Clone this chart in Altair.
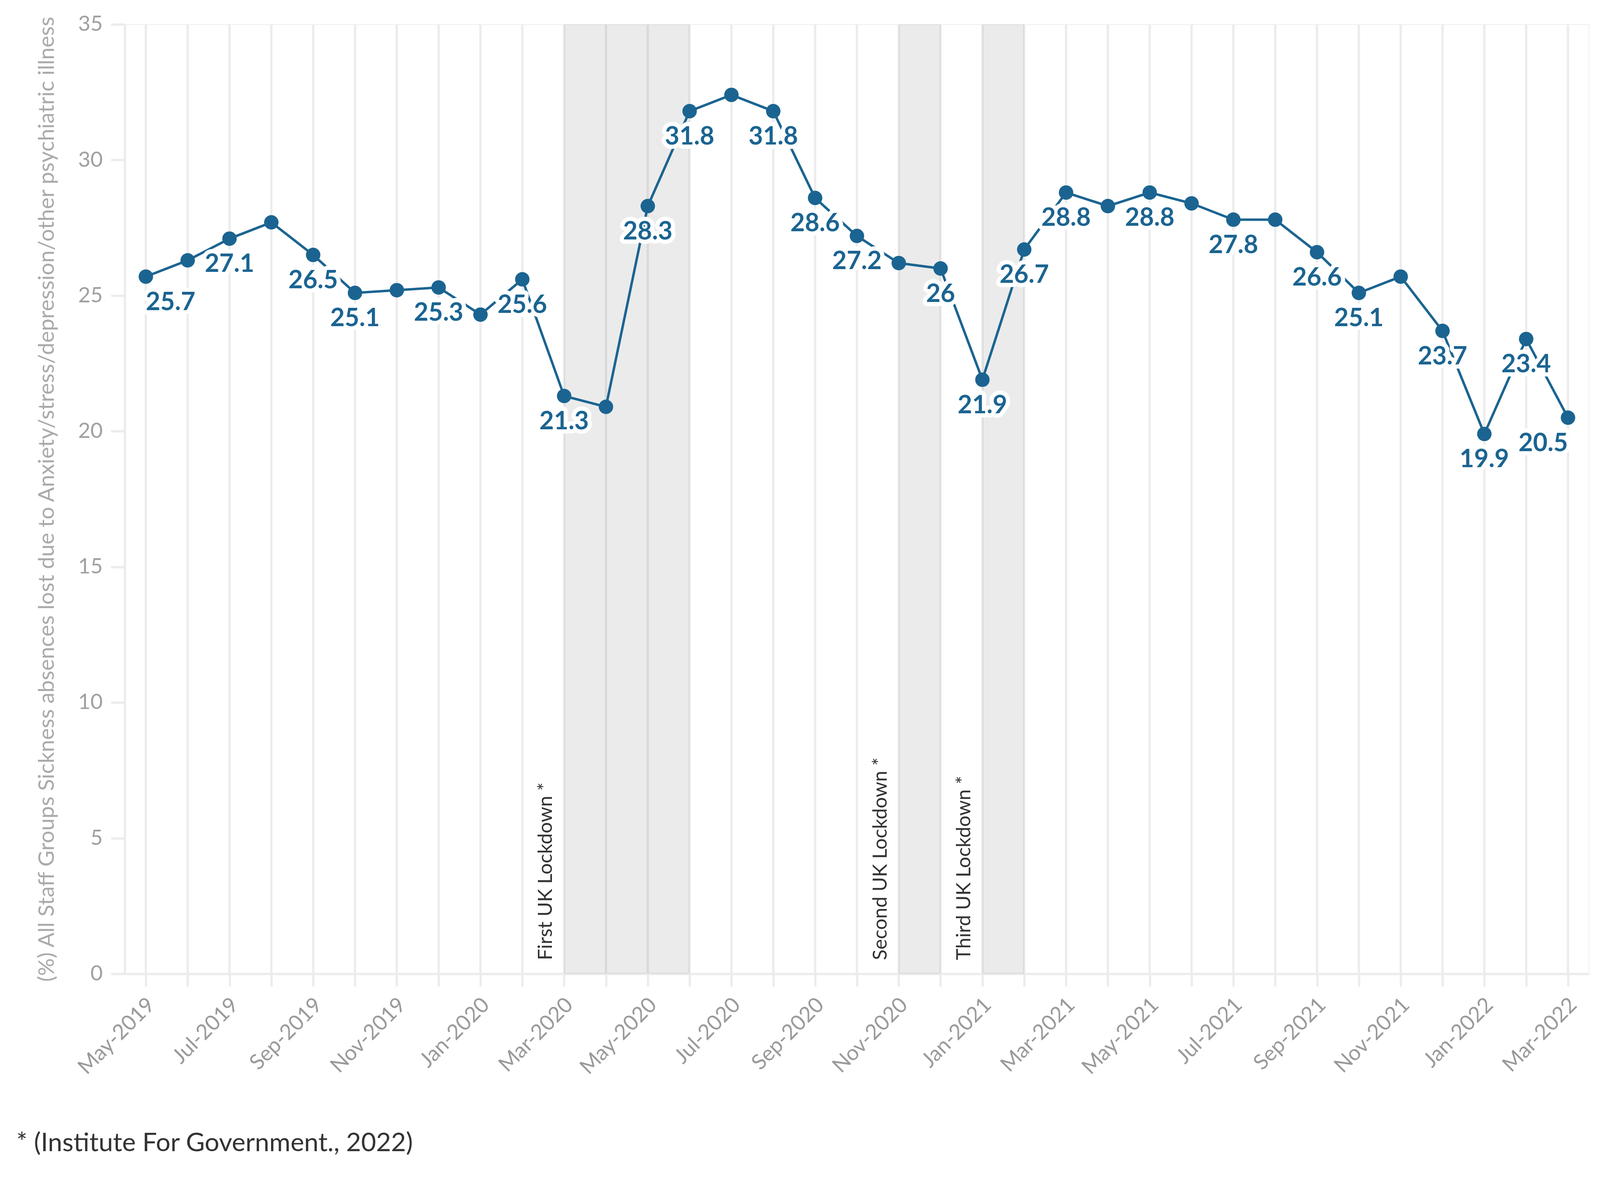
import json
import altair as alt
import pandas as pd

months = ["May-2019", "Jun-2019", "Jul-2019", "Aug-2019", "Sep-2019", "Oct-2019", "Nov-2019",
          "Dec-2019", "Jan-2020", "Feb-2020", "Mar-2020", "Apr-2020", "May-2020", "Jun-2020",
          "Jul-2020", "Aug-2020", "Sep-2020", "Oct-2020", "Nov-2020", "Dec-2020", "Jan-2021",
          "Feb-2021", "Mar-2021", "Apr-2021", "May-2021", "Jun-2021", "Jul-2021", "Aug-2021",
          "Sep-2021", "Oct-2021", "Nov-2021", "Dec-2021", "Jan-2022", "Feb-2022", "Mar-2022"]
values = [25.7, 26.3, 27.1, 27.7, 26.5, 25.1, 25.2, 25.3, 24.3, 25.6,
          21.3, 20.9, 28.3, 31.8, 32.4, 31.8, 28.6, 27.2, 26.2, 26.0,
          21.9, 26.7, 28.8, 28.3, 28.8, 28.4, 27.8, 27.8, 26.6, 25.1,
          25.7, 23.7, 19.9, 23.4, 20.5]
labels = ["25.7", "", "27.1", "", "26.5", "25.1", "", "25.3", "", "25.6",
          "21.3", "", "28.3", "31.8", "", "31.8", "28.6", "27.2", "", "26",
          "21.9", "26.7", "28.8", "", "28.8", "", "27.8", "", "26.6", "25.1",
          "", "23.7", "19.9", "23.4", "20.5"]
tick_labels = months[::2]
y_ticks = [0, 5, 10, 15, 20, 25, 30, 35]

lock_start = ["Mar-2020", "Nov-2020", "Jan-2021"]
lock_end = ["Jun-2020", "Dec-2020", "Feb-2021"]
lock_names = ["First UK Lockdown *", "Second UK Lockdown *", "Third UK Lockdown *"]

y_title = "(%) All Staff Groups Sickness absences lost due to Anxiety/stress/depression/other psychiatric illness"
footnote = "* (Institute For Government., 2022)"

df = pd.DataFrame({"month": months, "value": values, "label": labels,
                   "idx": list(range(len(months)))})
ld = pd.DataFrame({"start": lock_start, "end": lock_end, "name": lock_names})

W, H = 3858, 2502
BLUE = "#1b6491"
FONT = "Lato"
GRID = "#ececec"
LAST = len(months) - 1

label_expr = "indexof(" + json.dumps(tick_labels) + ", datum.label) >= 0 ? datum.label : ''"

x_scale = alt.Scale(type="point", domain=months, padding=0.5)
y_scale = alt.Scale(domain=[0, 35], nice=False)

x_axis = alt.Axis(title=None, labelAngle=-45, labelExpr=label_expr, labelFont=FONT,
                  labelFontSize=56, labelColor="#9a9a9a", grid=False,
                  domainColor=GRID, domainWidth=6, tickColor=GRID,
                  tickWidth=6, tickSize=33, labelPadding=40, labelOffset=14,
                  labelOverlap=False, labelLimit=2000)
y_axis = alt.Axis(title=y_title, values=y_ticks, format="d", grid=False, domain=False,
                  tickColor=GRID, tickWidth=6, tickSize=37, labelPadding=22,
                  labelFont=FONT, labelFontSize=56, labelColor="#a0a0a0",
                  titleFont=FONT, titleFontSize=58, titleColor="#aaaaaa",
                  titleFontWeight="normal", titlePadding=52, titleLimit=5000)

base = alt.Chart(df)

grid = base.mark_rule(color=GRID, strokeWidth=6).encode(
    x=alt.X("month:N", scale=x_scale, sort=months, title=None),
    y=alt.Y(datum=35, type="quantitative", scale=y_scale, title=None),
    y2=alt.Y2(datum=0),
)

bands = alt.Chart(ld).mark_rect(color="#000000", opacity=0.08).encode(
    x=alt.X("start:N", scale=x_scale, title=None),
    x2="end:N",
    y=alt.Y(datum=35, type="quantitative", scale=y_scale, title=None),
    y2=alt.Y2(datum=0),
)

left_edge = alt.Chart(pd.DataFrame({"a": [0]})).mark_rule(color=GRID, strokeWidth=6).encode(
    x=alt.value(0), y=alt.value(0), y2=alt.value(H))

line = base.mark_line(color=BLUE, strokeWidth=6.5).encode(
    x=alt.X("month:N", scale=x_scale, axis=x_axis, sort=months),
    y=alt.Y("value:Q", scale=y_scale, axis=y_axis),
)

points = base.mark_circle(color=BLUE, size=1450, opacity=1).encode(
    x=alt.X("month:N", scale=x_scale, sort=months),
    y=alt.Y("value:Q", scale=y_scale),
)


def label_layer(cond, align, halo):
    props = dict(font=FONT, fontWeight="bold", fontSize=66, baseline="middle",
                 align=align, dy=68)
    if halo:
        props.update(color="white", stroke="white", strokeWidth=22, strokeJoin="round")
    else:
        props.update(color=BLUE)
    return base.transform_filter("datum.label != ''").transform_filter(cond).mark_text(**props).encode(
        x=alt.X("month:N", scale=x_scale, sort=months),
        y=alt.Y("value:Q", scale=y_scale),
        text="label:N",
    )


conds = [("datum.idx == 0", "left"),
         (f"datum.idx > 0 && datum.idx < {LAST}", "center"),
         (f"datum.idx == {LAST}", "right")]
halos = [label_layer(c, a, True) for c, a in conds]
texts = [label_layer(c, a, False) for c, a in conds]

lock_text = alt.Chart(ld).mark_text(font=FONT, fontSize=52, color="#333333", angle=270,
                                    align="left", baseline="alphabetic", dx=36, dy=-32).encode(
    x=alt.X("start:N", scale=x_scale, title=None),
    y=alt.Y(datum=0, type="quantitative", scale=y_scale, title=None),
    text="name:N",
)

foot = alt.Chart(pd.DataFrame({"t": [footnote]})).mark_text(
    font=FONT, fontSize=68, color="#333333", align="left", baseline="alphabetic").encode(
    x=alt.value(-286), y=alt.value(2969), text="t:N")

chart = alt.layer(grid, bands, left_edge, line, points, *halos, *texts, lock_text, foot).properties(
    width=W, height=H,
    autosize=alt.AutoSizeParams(type="none"),
    padding={"left": 321, "top": 11, "right": 21, "bottom": 543},
).configure_view(stroke=None).configure(background="white")

chart.save("out.html", embed_options={"renderer": "svg", "actions": False})
